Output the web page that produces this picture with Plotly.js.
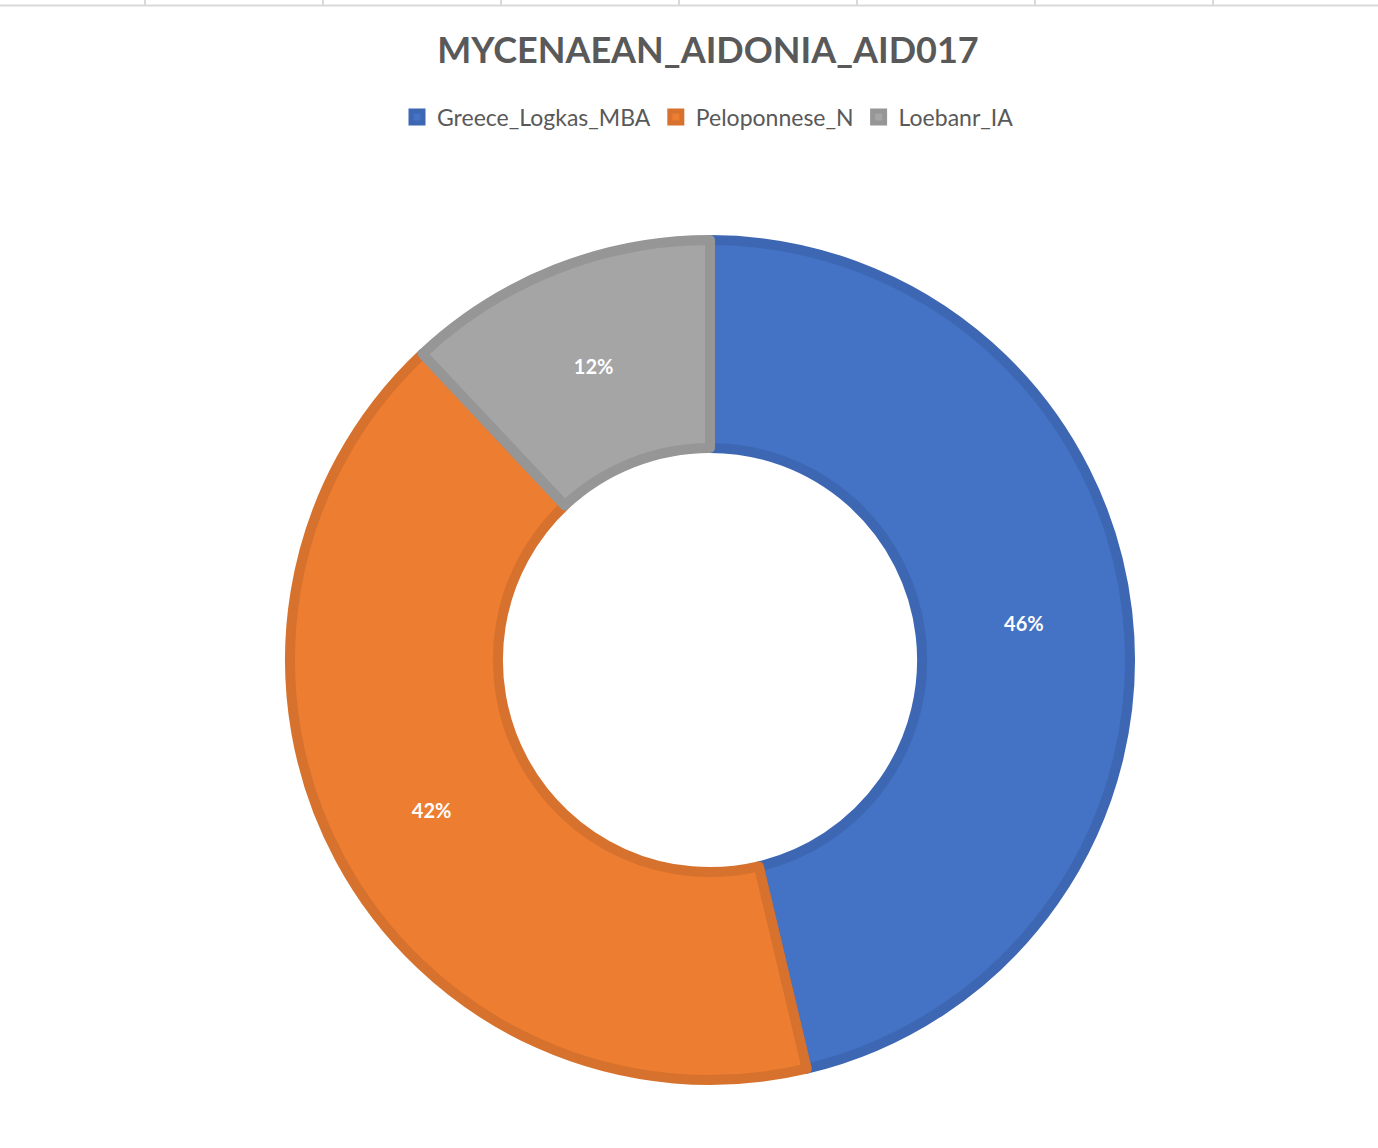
<!DOCTYPE html>
<html>
<head>
<meta charset="utf-8">
<script src="https://cdn.plot.ly/plotly-3.0.1.min.js"></script>
<style>
  html, body { margin: 0; padding: 0; background: #ffffff; }
  #chart { width: 1378px; height: 1148px; }
</style>
</head>
<body>
<div id="chart"></div>
<script>
const chartTitle = "MYCENAEAN_AIDONIA_AID017";
const categories = ["Greece_Logkas_MBA", "Peloponnese_N", "Loebanr_IA"];
const shares = [0.463, 0.417, 0.120];
const fillColors = ["#4472C4", "#ED7D31", "#A5A5A5"];
const borderColors = ["#3D67B3", "#D6722D", "#969696"];

const W = 1378, H = 1148;
const cx = 710, cy = 660, R = 420;

const trace = {
  type: "pie",
  labels: categories,
  values: shares,
  sort: false,
  direction: "clockwise",
  rotation: 0,
  hole: 0.505,
  marker: { colors: fillColors, line: { color: borderColors, width: 10 } },
  texttemplate: "<b>%{percent:.0%}</b>",
  textposition: "inside",
  insidetextorientation: "horizontal",
  textfont: { family: "Lato, 'DejaVu Sans', sans-serif", size: 20, color: "#ffffff" },
  domain: { x: [(cx - R) / W, (cx + R) / W], y: [1 - (cy + R) / H, 1 - (cy - R) / H] },
  hoverinfo: "label+percent"
};

const gridX = [145, 323, 501, 679, 857, 1035, 1213];
const shapes = [{
  type: "line", xref: "paper", yref: "paper", x0: 0, x1: 1, y0: 1 - 5.5 / H, y1: 1 - 5.5 / H,
  line: { color: "#D9D9D9", width: 2 }
}].concat(gridX.map(x => ({
  type: "line", xref: "paper", yref: "paper", x0: x / W, x1: x / W, y0: 1, y1: 1 - 5 / H,
  line: { color: "#D9D9D9", width: 2 }
})));

const layout = {
  width: W, height: H,
  margin: { l: 0, r: 0, t: 0, b: 0 },
  paper_bgcolor: "#ffffff",
  title: {
    text: "<b>" + chartTitle + "</b>",
    font: { family: "Lato, 'DejaVu Sans', sans-serif", size: 36, color: "#595959" },
    x: 708 / W, xanchor: "center", y: 1 - 50 / H, yanchor: "middle"
  },
  showlegend: true,
  legend: {
    orientation: "h", x: 708 / W, xanchor: "center", y: 1 - 117 / H, yanchor: "middle",
    font: { family: "Lato, 'DejaVu Sans', sans-serif", size: 23, color: "#595959" },
    itemwidth: 30, traceorder: "normal"
  },
  shapes: shapes
};

Plotly.newPlot("chart", [trace], layout, { displayModeBar: false, staticPlot: true });
</script>
</body>
</html>
